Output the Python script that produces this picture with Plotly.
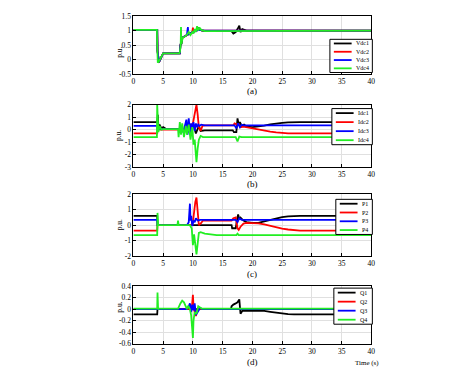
import plotly.graph_objects as go

W, H = 474, 370
FONT = "Liberation Serif"
COLORS = ["#000000", "#ff0000", "#0000ff", "#22ee22"]

# ---------------- data ----------------
x_ticks = [0, 5, 10, 15, 20, 25, 30, 35, 40]

# Panel (a): Vdc
vdc_names = ["Vdc1", "Vdc2", "Vdc3", "Vdc4"]
vdc1_t = [0, 4.0, 4.05, 4.3, 4.6, 5.0, 7.8, 7.9, 8.1, 8.2, 9, 9.5, 10, 10.5, 11, 11.5, 12, 16.5, 16.8, 17.2, 17.5, 17.8, 18.0, 18.3, 19, 20, 40]
vdc1_v = [1.02, 1.02, 0.3, -0.08, 0.05, 0.22, 0.22, 0.5, 0.55, 0.75, 0.85, 0.9, 0.95, 1.0, 1.08, 1.0, 0.99, 0.98, 0.9, 0.95, 1.05, 1.17, 0.95, 1.05, 1.0, 1.0, 1.0]
vdc2_t = [0, 4.0, 4.05, 4.3, 4.6, 5.0, 7.8, 7.9, 8.2, 9.5, 9.9, 10.0, 10.1, 10.5, 11, 12, 40]
vdc2_v = [1.02, 1.02, 0.3, -0.08, 0.05, 0.22, 0.22, 0.5, 0.75, 0.9, 0.95, 1.1, 0.95, 1.0, 1.02, 1.0, 1.0]
vdc3_t = [0, 4.0, 4.05, 4.3, 4.6, 5.0, 7.8, 7.9, 8.2, 9.0, 9.15, 9.25, 9.4, 10, 11, 12, 40]
vdc3_v = [1.02, 1.02, 0.3, -0.08, 0.05, 0.22, 0.22, 0.5, 0.75, 0.85, 1.12, 0.85, 0.9, 0.95, 1.02, 1.0, 1.0]
vdc4_t = [0, 3.95, 4.0, 4.1, 4.3, 4.6, 5.0, 7.7, 7.8, 7.95, 8.0, 8.05, 8.3, 8.6, 9.0, 9.3, 9.6, 9.9, 10.1, 10.3, 10.5, 10.7, 10.9, 11.1, 11.4, 12, 19, 20, 40]
vdc4_v = [1.02, 1.02, 0.5, -0.1, -0.05, 0.05, 0.22, 0.22, 0.25, 0.5, 1.12, 0.55, 0.75, 0.8, 0.85, 0.95, 0.85, 0.95, 0.9, 1.05, 0.95, 1.15, 1.0, 1.1, 1.02, 0.98, 0.98, 1.0, 1.0]

# Panel (b): Idc
idc_names = ["Idc1", "Idc2", "Idc3", "Idc4"]
idc1_t = [0, 4.0, 4.1, 4.2, 4.4, 4.7, 5.0, 5.5, 7.5, 8.5, 9.0, 9.5, 10.0, 10.5, 11.0, 11.3, 12, 16.7, 16.9, 17.3, 17.5, 17.7, 17.9, 18.2, 18.6, 19, 20, 21, 22, 23, 24, 25, 26, 27, 28, 40]
idc1_v = [0.6, 0.6, 1.2, 0.2, 0.4, 0.1, 0.2, 0.05, 0.05, 0.0, 0.3, -0.3, 0.5, -0.3, 0.3, -0.1, -0.05, -0.05, -0.2, -0.2, 0.9, 0.4, 0.6, 0.3, 0.4, 0.25, 0.2, 0.25, 0.33, 0.42, 0.5, 0.55, 0.58, 0.6, 0.6, 0.6]
idc2_t = [0, 4.0, 4.1, 4.5, 9.5, 9.8, 10.0, 10.2, 10.4, 10.6, 10.8, 11.0, 11.3, 11.6, 12, 16.8, 17.0, 17.4, 17.7, 18.0, 18.5, 19, 20, 21, 22, 23, 24, 25, 26, 27, 28, 40]
idc2_v = [-0.3, -0.3, 0.2, 0.0, 0.0, 0.3, 0.5, 1.0, 1.7, 2.0, 1.2, 0.2, -0.1, 0.3, 0.35, 0.35, 0.5, 0.4, 0.45, 0.2, 0.25, 0.2, 0.15, 0.05, -0.05, -0.15, -0.22, -0.27, -0.3, -0.3, -0.3, -0.3]
idc3_t = [0, 4.0, 4.1, 4.5, 7.5, 7.8, 8.0, 8.3, 8.6, 8.9, 9.1, 9.3, 9.5, 9.7, 9.9, 10.1, 10.3, 10.5, 10.7, 10.9, 11.1, 11.4, 12, 17.0, 17.3, 17.6, 17.9, 18.2, 18.6, 40]
idc3_v = [0.3, 0.3, 0.0, 0.05, 0.05, -0.1, 0.2, -0.2, 0.2, 0.8, -0.4, 0.9, -0.2, 0.5, 0.2, 0.6, -0.1, 0.5, 0.2, 0.4, 0.3, 0.4, 0.35, 0.35, 0.1, 0.5, 0.2, 0.4, 0.35, 0.35]
idc4_t = [0, 3.95, 4.0, 4.1, 4.2, 4.4, 4.7, 5.0, 7.5, 7.6, 7.8, 8.0, 8.2, 8.5, 8.8, 9.0, 9.3, 9.6, 9.9, 10.1, 10.3, 10.5, 10.6, 10.8, 11.0, 11.3, 11.7, 12.5, 17.2, 17.5, 17.8, 18.2, 40]
idc4_v = [-0.6, -0.6, 2.0, 1.0, -0.2, 0.3, 0.0, 0.05, 0.05, -0.6, 0.6, -0.4, 0.5, -0.6, 0.3, -0.4, 0.4, -0.8, 0.2, -1.2, -0.8, -2.0, -2.6, -1.5, -0.8, -0.5, -0.6, -0.6, -0.6, -0.95, -0.55, -0.6, -0.6]

# Panel (c): P
p_names = ["P1", "P2", "P3", "P4"]
p1_t = [0, 4.0, 4.05, 4.5, 16.5, 16.6, 17.2, 17.4, 17.6, 17.8, 18.0, 18.5, 19, 20, 21, 22, 23, 24, 25, 26, 27, 28, 40]
p1_v = [0.6, 0.6, 0.0, 0.0, 0.0, -0.2, -0.2, 0.3, 0.7, 0.4, 0.5, 0.3, 0.2, 0.15, 0.15, 0.25, 0.35, 0.45, 0.52, 0.57, 0.6, 0.6, 0.6]
p2_t = [0, 4.0, 4.05, 9.8, 10.0, 10.2, 10.4, 10.6, 10.8, 11.0, 11.3, 11.7, 12, 16.5, 16.8, 17.2, 17.5, 17.7, 18.0, 18.5, 19, 20, 21, 22, 23, 24, 25, 26, 27, 28, 40]
p2_v = [-0.35, -0.35, 0.0, 0.0, 0.2, 0.9, 1.5, 1.8, 1.0, 0.0, 0.1, 0.3, 0.3, 0.3, 0.45, 0.5, -0.2, -0.3, -0.1, 0.1, 0.15, 0.15, 0.12, 0.05, -0.05, -0.15, -0.23, -0.28, -0.32, -0.35, -0.35]
p3_t = [0, 4.0, 4.05, 9.0, 9.3, 9.5, 9.6, 9.7, 9.9, 10.1, 10.3, 10.5, 10.8, 11.2, 17.2, 17.5, 17.8, 18.2, 40]
p3_v = [0.35, 0.35, 0.0, 0.0, 0.2, 1.4, 0.3, 0.6, -0.05, 0.3, 0.2, 0.45, 0.3, 0.35, 0.35, 0.2, 0.45, 0.35, 0.35]
p4_t = [0, 4.0, 4.05, 4.15, 4.3, 7.4, 7.5, 7.6, 8.5, 9.5, 9.8, 10.0, 10.2, 10.4, 10.6, 10.8, 11.0, 11.3, 12, 14, 17.3, 17.5, 17.7, 40]
p4_v = [-0.65, -0.65, 0.8, 0.0, 0.0, 0.0, 0.3, 0.0, 0.0, 0.0, -0.2, -1.3, -0.6, -1.4, -1.9, -1.2, -0.5, -0.45, -0.55, -0.65, -0.65, -0.55, -0.65, -0.65]

# Panel (d): Q
q_names = ["Q1", "Q2", "Q3", "Q4"]
q1_t = [0, 4.0, 4.05, 16.4, 16.5, 16.8, 17.2, 17.5, 17.8, 17.9, 18.0, 18.3, 19, 20, 21, 22, 23, 24, 25, 26, 27, 28, 40]
q1_v = [-0.09, -0.09, 0.0, 0.0, 0.05, 0.08, 0.1, 0.12, 0.17, 0.05, -0.08, -0.03, -0.03, -0.02, -0.02, -0.03, -0.045, -0.06, -0.075, -0.085, -0.09, -0.09, -0.09]
q2_t = [0, 9.8, 10.0, 10.1, 10.3, 10.5, 10.7, 11.0, 40]
q2_v = [0, 0, 0.25, 0.05, -0.05, -0.12, -0.02, 0, 0]
q3_t = [0, 9.0, 9.3, 9.5, 9.7, 9.9, 10.1, 10.3, 10.5, 10.8, 11.2, 11.6, 12, 40]
q3_v = [0, 0, 0.05, 0.1, -0.05, 0.08, -0.02, 0.1, -0.1, -0.05, 0.02, 0.0, 0.0, 0]
q4_t = [0, 4.0, 4.05, 4.15, 4.3, 7.5, 7.9, 8.2, 8.5, 8.8, 9.0, 9.2, 9.5, 9.7, 9.9, 10.0, 10.1, 10.3, 10.6, 10.9, 11.2, 11.5, 12, 40]
q4_v = [0.01, 0.01, 0.29, 0.0, 0.01, 0.01, 0.1, 0.15, 0.12, 0.05, 0.0, 0.06, 0.0, -0.1, -0.3, -0.5, -0.2, -0.05, -0.08, 0.05, 0.03, 0.01, 0.01, 0.01]

panel_labels = ["(a)", "(b)", "(c)", "(d)"]
y_ranges = [[-0.5, 1.5], [-3, 2], [-2, 2], [-0.6, 0.4]]
y_tickvals = [[-0.5, 0, 0.5, 1, 1.5], [-3, -2, -1, 0, 1, 2], [-2, -1, 0, 1, 2],
              [-0.6, -0.4, -0.2, 0, 0.2, 0.4]]
y_ticktext = [["-0.5", "0", "0.5", "1", "1.5"], ["-3", "-2", "-1", "0", "1", "2"],
              ["-2", "-1", "0", "1", "2"], ["-0.6", "-0.4", "-0.2", "0", "0.2", "0.4"]]

panels = [
    (vdc_names, [(vdc1_t, vdc1_v), (vdc2_t, vdc2_v), (vdc3_t, vdc3_v), (vdc4_t, vdc4_v)]),
    (idc_names, [(idc1_t, idc1_v), (idc2_t, idc2_v), (idc3_t, idc3_v), (idc4_t, idc4_v)]),
    (p_names, [(p1_t, p1_v), (p2_t, p2_v), (p3_t, p3_v), (p4_t, p4_v)]),
    (q_names, [(q1_t, q1_v), (q2_t, q2_v), (q3_t, q3_v), (q4_t, q4_v)]),
]

# ---------------- layout geometry (pixels) ----------------
X0, X1 = 125, 366
panel_px = [(4, 64), (95, 159), (187, 250), (281, 340)]
label_py = [81, 176, 269, 359]
legend_px = [(324, 28, 367, 62), (326, 99, 367, 136), (330, 192, 367, 228), (328, 283, 367, 320)]


def px(x):
    return x / W


def py(y):
    return 1 - y / H


fig = go.Figure()
layout = dict(width=W, height=H, margin=dict(l=0, r=0, t=0, b=0),
              paper_bgcolor="white", plot_bgcolor="white", showlegend=False,
              font=dict(family=FONT, size=7, color="black"))
shapes, annotations = [], []

for i, (names, series) in enumerate(panels):
    suf = "" if i == 0 else str(i + 1)
    for (t, v), name, c in zip(series, names, COLORS):
        fig.add_trace(go.Scatter(x=t, y=v, mode="lines", name=name,
                                 line=dict(color=c, width=1.8),
                                 xaxis="x" + suf, yaxis="y" + suf))
    top, bot = panel_px[i]
    common = dict(showline=True, linecolor="black", linewidth=1, mirror=True,
                  ticks="inside", ticklen=3, tickcolor="black",
                  showgrid=True, gridcolor="#e0e0e0", gridwidth=1, zeroline=False,
                  tickfont=dict(family=FONT, size=7.5, color="black"))
    layout["xaxis" + suf] = dict(domain=[px(X0), px(X1)], range=[0, 40], tickvals=x_ticks,
                                 anchor="y" + suf, **common)
    layout["yaxis" + suf] = dict(domain=[py(bot), py(top)], range=y_ranges[i],
                                 tickvals=y_tickvals[i], ticktext=y_ticktext[i],
                                 anchor="x" + suf, **common)
    # y title
    annotations.append(dict(text="p.u.", x=px(104), y=py((top + bot) / 2), xref="paper", yref="paper",
                            textangle=-90, showarrow=False, font=dict(family=FONT, size=7.5)))
    annotations.append(dict(text=panel_labels[i], x=px((X0 + X1) / 2), y=py(label_py[i]),
                            xref="paper", yref="paper", showarrow=False, yanchor="middle",
                            font=dict(family=FONT, size=9)))
    # custom legend
    lx0, ly0, lx1, ly1 = legend_px[i]
    shapes.append(dict(type="rect", xref="paper", yref="paper", x0=px(lx0), x1=px(lx1),
                       y0=py(ly1), y1=py(ly0), line=dict(color="black", width=1),
                       fillcolor="white", layer="above"))
    step = (ly1 - ly0) / 4
    for k, (name, c) in enumerate(zip(names, COLORS)):
        yy = ly0 + step * (k + 0.5)
        shapes.append(dict(type="line", xref="paper", yref="paper", x0=px(lx0 + 4), x1=px(lx0 + 22),
                           y0=py(yy), y1=py(yy), line=dict(color=c, width=1.8), layer="above"))
        annotations.append(dict(text=name, x=px(lx0 + 24), y=py(yy), xref="paper", yref="paper",
                                xanchor="left", yanchor="middle", showarrow=False,
                                font=dict(family=FONT, size=6)))

annotations.append(dict(text="Time (s)", x=px(376), y=py(360), xref="paper", yref="paper",
                        xanchor="right", yanchor="middle",
                        showarrow=False, font=dict(family=FONT, size=7)))
layout["shapes"] = shapes
layout["annotations"] = annotations
fig.update_layout(**layout)
fig.write_html("out.html")
